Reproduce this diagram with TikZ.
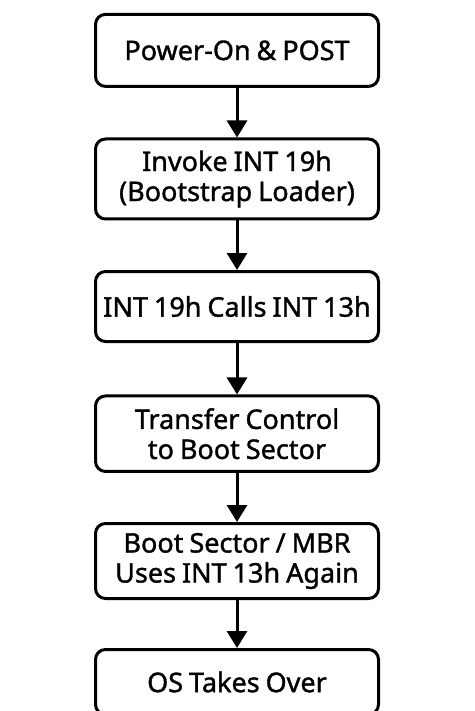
\documentclass[tikz,border=0pt]{standalone}
\usepackage{fontspec}
\setmainfont{Noto Sans}
\newfontfamily\boxfont{Noto Sans}[FakeBold=1.3, WordSpace=0.85]
\usetikzlibrary{arrows.meta}
\begin{document}
\begin{tikzpicture}[x=1pt,y=-1pt,
  stepbox/.style={draw=black, line width=3pt, rounded corners=10pt, fill=white,
    minimum width=283pt, inner sep=0pt, align=center,
    font=\boxfont\fontsize{27}{30}\selectfont},
  flow/.style={line width=3pt, -{Triangle[width=20pt,length=17pt]}}]
\useasboundingbox (0,0) rectangle (474,711);
\node[stepbox, minimum height=72pt] (b1) at (237,50.4) {Power-On \& POST};
\node[stepbox, minimum height=80pt] (b2) at (237,179) {Invoke INT 19h\\(Bootstrap Loader)};
\node[stepbox, minimum height=70pt] (b3) at (237,306.5) {INT 19h Calls INT 13h};
\node[stepbox, minimum height=75.5pt] (b4) at (237,433.7) {Transfer Control\\to Boot Sector};
\node[stepbox, minimum height=75pt] (b5) at (237,561) {Boot Sector / MBR\\Uses INT 13h Again};
\node[stepbox, minimum height=65pt] (b6) at (237,682) {OS Takes Over};
\draw[flow] (b1) -- (b2);
\draw[flow] (b2) -- (b3);
\draw[flow] (b3) -- (b4);
\draw[flow] (b4) -- (b5);
\draw[flow] (b5) -- (b6);
\end{tikzpicture}
\end{document}
